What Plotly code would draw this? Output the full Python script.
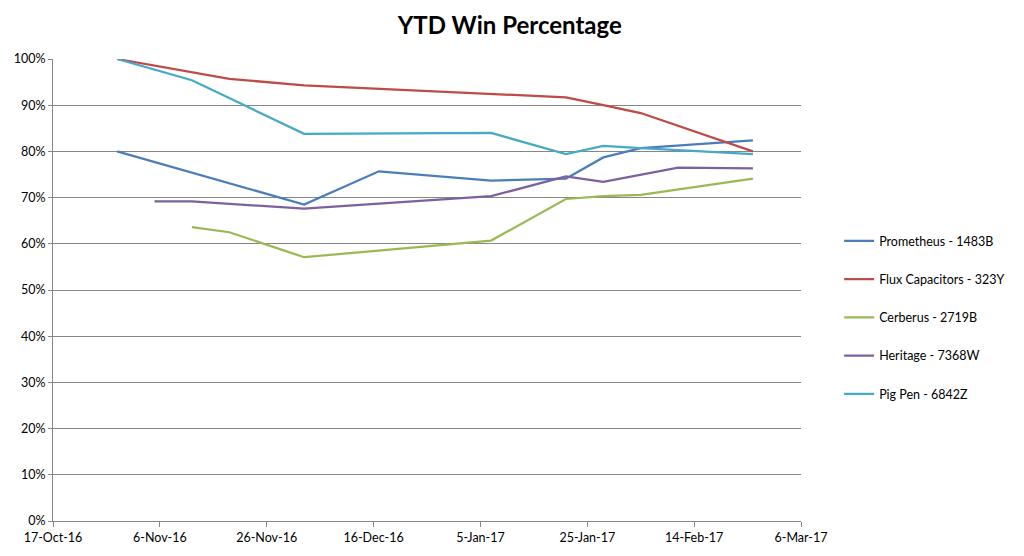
import plotly.graph_objects as go

# weekly YTD win % per team
prometheus_dates = ["2016-10-29", "2016-12-03", "2016-12-17", "2017-01-07", "2017-01-21",
                    "2017-01-28", "2017-02-04", "2017-02-25"]
prometheus_vals = [0.800, 0.685, 0.757, 0.737, 0.741, 0.787, 0.807, 0.824]

flux_dates = ["2016-10-29", "2016-11-12", "2016-11-19", "2016-12-03", "2017-01-21",
              "2017-01-28", "2017-02-04", "2017-02-25"]
flux_vals = [1.000, 0.972, 0.957, 0.943, 0.917, 0.900, 0.883, 0.800]

cerberus_dates = ["2016-11-12", "2016-11-19", "2016-12-03", "2017-01-07", "2017-01-21",
                  "2017-01-28", "2017-02-04", "2017-02-25"]
cerberus_vals = [0.636, 0.625, 0.571, 0.607, 0.697, 0.703, 0.706, 0.741]

heritage_dates = ["2016-11-05", "2016-11-12", "2016-12-03", "2017-01-07", "2017-01-21",
                  "2017-01-28", "2017-02-11", "2017-02-25"]
heritage_vals = [0.692, 0.692, 0.676, 0.703, 0.746, 0.734, 0.765, 0.763]

pigpen_dates = ["2016-10-29", "2016-11-12", "2016-12-03", "2017-01-07", "2017-01-21",
                "2017-01-28", "2017-02-04", "2017-02-18", "2017-02-25"]
pigpen_vals = [1.000, 0.954, 0.838, 0.840, 0.794, 0.812, 0.807, 0.799, 0.794]

series = [
    ("Prometheus - 1483B", prometheus_dates, prometheus_vals, "#4A7EBB"),
    ("Flux Capacitors - 323Y", flux_dates, flux_vals, "#BE4B48"),
    ("Cerberus - 2719B", cerberus_dates, cerberus_vals, "#98B954"),
    ("Heritage - 7368W", heritage_dates, heritage_vals, "#7D60A0"),
    ("Pig Pen - 6842Z", pigpen_dates, pigpen_vals, "#46AAC5"),
]

fig = go.Figure()
for name, dates, vals, color in series:
    fig.add_trace(go.Scatter(x=dates, y=vals, name=name, mode="lines", legendgroup=name,
                             line=dict(color=color, width=2.25)))

# the page puts the figure 8px in from the top left, margins allow for that
fig.update_layout(
    width=1024, height=556,
    paper_bgcolor="white", plot_bgcolor="white",
    font=dict(family="Lato, Arial", size=12, color="#000000"),
    title=dict(text="<b>YTD Win Percentage</b>", x=0.49, xanchor="center",
               y=0.968, yanchor="middle", font=dict(size=24, color="#000000")),
    margin=dict(l=45, r=231, t=51, b=43),
    showlegend=True,
    legend=dict(x=1.051, y=0.44, xanchor="left", yanchor="middle",
                traceorder="grouped", tracegroupgap=19, font=dict(size=12.5)),
)

fig.update_xaxes(type="date", range=["2016-10-17", "2017-03-06"],
                 tick0="2016-10-17", dtick=20 * 86400000, tickformat="%-d-%b-%y",
                 showgrid=False, showline=True, linecolor="#868686", linewidth=1,
                 ticks="outside", ticklen=5, tickcolor="#868686", zeroline=False,
                 tickfont=dict(size=12.5), automargin=False)
fig.update_yaxes(range=[0, 1], dtick=0.1, tickformat=".0%",
                 showgrid=True, gridcolor="#868686", gridwidth=1,
                 showline=True, linecolor="#868686", linewidth=1,
                 ticks="outside", ticklen=4, tickcolor="#868686", zeroline=False,
                 tickfont=dict(size=12.5), automargin=False)

fig.write_html("out.html")
